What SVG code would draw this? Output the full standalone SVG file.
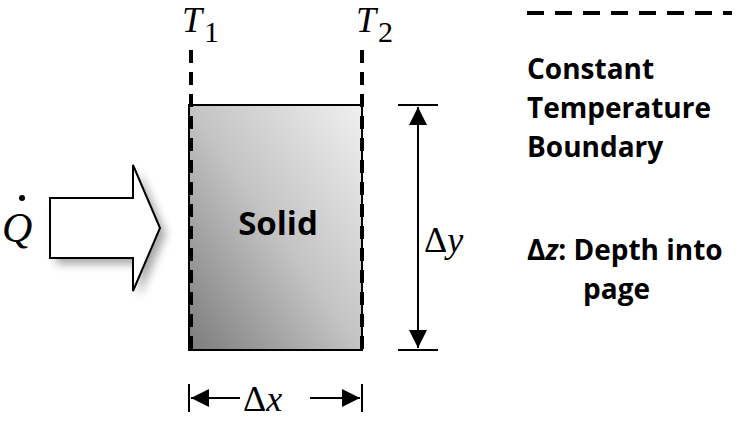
<svg xmlns="http://www.w3.org/2000/svg" width="744" height="446" viewBox="0 0 744 446">
<style>
.it{font-family:"Liberation Serif",serif;font-style:italic;font-size:36px}
.gr{font-family:"Liberation Serif",serif;font-size:36px}
.b{font-family:"Open Sans","Liberation Sans",sans-serif;font-weight:bold;font-size:28px}
.d{stroke:#000;stroke-width:4;stroke-dasharray:13 9;fill:none}
.l{stroke:#000;stroke-width:2;fill:none}
</style>
<defs>
<linearGradient id="g" x1="1" y1="0" x2="0" y2="1">
<stop offset="0" stop-color="#f0f0f0"/><stop offset="0.5" stop-color="#c4c4c4"/><stop offset="1" stop-color="#7c7c7c"/>
</linearGradient>
<filter id="sh" x="-20%" y="-20%" width="150%" height="150%"><feGaussianBlur stdDeviation="5"/></filter>
<marker id="A" viewBox="0 0 10 10" refX="10" refY="5" markerWidth="18" markerHeight="18" markerUnits="userSpaceOnUse" orient="auto-start-reverse"><path d="M0,0L10,5L0,10z"/></marker>
</defs>
<g id="arrow">
<path d="M56,204H139V171L166,234L139,297V264H56Z" fill="#000" opacity="0.35" filter="url(#sh)"/>
<path d="M50,198H133V165L160,228L133,291V258H50Z" fill="#fff" stroke="#000" stroke-width="2"/>
<text class="it" x="2" y="242" style="font-size:42px">Q</text><circle cx="22" cy="198" r="3"/>
</g>
<g id="solid">
<rect x="189" y="105" width="173" height="245" fill="url(#g)" stroke="#000" stroke-width="2"/>
<text class="b" x="278" y="235" text-anchor="middle" style="font-size:33px">Solid</text>
</g>
<g id="connectors">
<line class="d" x1="191" y1="50" x2="191" y2="350"/>
<line class="d" x1="362" y1="50" x2="362" y2="350"/>
<line class="l" x1="398" y1="105" x2="438" y2="105"/><line class="l" x1="398" y1="350" x2="438" y2="350"/>
<line class="l" x1="418" y1="107" x2="418" y2="348" marker-start="url(#A)" marker-end="url(#A)"/>
<line class="l" x1="189" y1="384" x2="189" y2="412"/><line class="l" x1="362" y1="384" x2="362" y2="412"/>
<line class="l" x1="191" y1="398" x2="240" y2="398" marker-start="url(#A)"/>
<line class="l" x1="310" y1="398" x2="360" y2="398" marker-end="url(#A)"/>
<line x1="527" y1="13" x2="732" y2="13" stroke="#000" stroke-width="4" stroke-dasharray="17 11"/>
</g>
<g id="labels">
<text class="it" x="182" y="32">T</text><text class="gr" x="204" y="42" style="font-size:30px">1</text>
<text class="it" x="356" y="32">T</text><text class="gr" x="378" y="42" style="font-size:30px">2</text>
<text class="gr" x="424" y="252">Δ<tspan font-style="italic">y</tspan></text>
<text class="gr" x="243" y="411">Δ<tspan font-style="italic">x</tspan></text>
<text class="b" x="527" y="79">Constant</text>
<text class="b" x="527" y="118">Temperature</text>
<text class="b" x="527" y="157">Boundary</text>
<text class="b" x="527" y="260">Δ<tspan font-style="italic">z</tspan>: Depth into</text>
<text class="b" x="583" y="299">page</text>
</g>
</svg>
